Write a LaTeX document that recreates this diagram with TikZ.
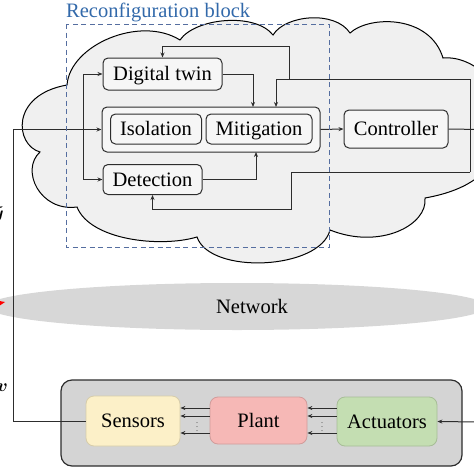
\documentclass[tikz,border=0pt]{standalone}
\usepackage{amsmath}
\usepackage{fontspec}
\setmainfont{Liberation Serif}
\usetikzlibrary{arrows.meta,calc,shapes.geometric}
\definecolor{cloudfill}{RGB}{240,240,240}
\definecolor{boxfill}{RGB}{246,246,246}
\definecolor{linec}{RGB}{45,45,45}
\definecolor{dashc}{RGB}{85,110,160}
\definecolor{labc}{RGB}{50,105,170}
\definecolor{netfill}{RGB}{215,215,215}
\definecolor{envfill}{RGB}{212,212,212}
\definecolor{senfill}{RGB}{252,240,200}
\definecolor{plafill}{RGB}{246,184,182}
\definecolor{actfill}{RGB}{196,222,178}
\begin{document}
\begin{tikzpicture}[x=1pt,y=-1pt,
  txt/.style={font=\fontsize{20.5}{24}\selectfont},
  ctxt/.style={txt,text height=16.6pt,text depth=3pt},
  blk/.style={ctxt,draw=linec,line width=1pt,fill=boxfill,rounded corners=5pt,inner sep=0pt},
  cbox/.style={ctxt,rounded corners=8pt,inner sep=0pt,line width=0.8pt},
  conn/.style={draw=linec,line width=1pt},
  arr/.style={conn,-{Stealth[length=5pt,width=4pt]}},
  dots/.style={inner sep=0pt,font=\fontsize{8}{8}\selectfont,text=linec}
]
\useasboundingbox (0,0) rectangle (474,474);
% cloud
\draw[fill=cloudfill,draw=black,line width=1pt]
  (40,152) .. controls (15,145) and (10,95) .. (67,85)
  .. controls (70,45) and (140,15) .. (180,40)
  .. controls (195,18) and (255,12) .. (273,35)
  .. controls (285,15) and (335,10) .. (350,33)
  .. controls (370,15) and (430,15) .. (443,58)
  .. controls (475,55) and (510,90) .. (505,125)
  .. controls (500,170) and (470,190) .. (425,198)
  .. controls (428,225) and (380,250) .. (330,230)
  .. controls (320,270) and (210,275) .. (197,237)
  .. controls (160,248) and (90,240) .. (77,207)
  .. controls (40,212) and (20,170) .. (40,152) -- cycle;
% network
\node[ellipse,fill=netfill,minimum width=500pt,minimum height=47pt,inner sep=0pt] (net) at (237,306.5) {};
\node[ctxt,inner sep=0pt] (nettxt) at (252,307) {Network};
% environment box
\node[draw=linec,line width=1.2pt,fill=envfill,rounded corners=11pt,minimum width=401pt,minimum height=86pt,inner sep=0pt] (env) at (261.5,423) {};
\node[cbox,fill=senfill,draw=senfill!85!black,minimum width=94pt,minimum height=50pt] (sen) at (133,421) {Sensors};
\node[cbox,fill=plafill,draw=plafill!85!black,minimum width=97pt,minimum height=47pt] (pla) at (258.5,420.5) {Plant};
\node[cbox,fill=actfill,draw=actfill!85!black,minimum width=100pt,minimum height=49pt] (act) at (387,421.5) {Actuators};
% blocks
\node[blk,minimum width=119pt,minimum height=32pt] (dt) at (162.5,74) {Digital twin};
\node[blk,minimum width=218pt,minimum height=45pt] (ob) at (211,129.5) {};
\node[blk,minimum width=91pt,minimum height=30pt] (iso) at (156,129) {Isolation};
\node[blk,minimum width=106pt,minimum height=30pt] (mit) at (259,129) {Mitigation};
\node[blk,minimum width=99pt,minimum height=30pt] (det) at (152.5,179.5) {Detection};
\node[blk,minimum width=104pt,minimum height=38pt] (ctl) at (396,129) {Controller};
% coordinates
\coordinate (lx) at (13,129.5);
\coordinate (bt) at (83,74);
\coordinate (bb) at (83,179.5);
\coordinate (m1) at (253,107);
\coordinate (m2) at (256,152);
\coordinate (m3) at (276,107);
\coordinate (ce) at (480,129.5);
\coordinate (jt) at (470,79);
\coordinate (jb) at (470,172);
\coordinate (k1) at (289,79);
\coordinate (k2) at (289,46);
\coordinate (b1) at (291,172);
\coordinate (b2) at (152.5,209);
\coordinate (ar) at (480,422);
\coordinate (ya) at (0,408);
\coordinate (yb) at (0,416);
\coordinate (yc) at (0,433);
% connectors
\draw[arr] (sen.west) -| (lx) -- (ob.west);
\draw[conn] (bt) -- (bb);
\draw[arr] (bt) -- (dt.west);
\draw[arr] (bb) -- (det.west);
\draw[arr] (dt.east) -| (m1);
\draw[arr] (det.east) -| (m2);
\draw[arr] (ob.east) -- (ctl.west);
\draw[conn] (ctl.east) -- (ce);
\draw[conn] (jt) -- (jb);
\draw[arr] (jt) -| (m3);
\draw[arr] (k1) -- (k2) -| (dt.north);
\draw[arr] (jb) -- (b1) |- (b2) -- (det.south);
\draw[arr] (ar) -- (act.east);
\foreach \yy in {ya,yb,yc}{
  \draw[arr] (pla.west |- \yy) -- (sen.east |- \yy);
  \draw[arr] (act.west |- \yy) -- (pla.east |- \yy);
}
\node[dots] (d1) at (197,424.5) {$\vdots$};
\node[dots] (d2) at (322,424.5) {$\vdots$};
% dashed reconfiguration block
\draw[dashc,line width=1pt,dash pattern=on 5pt off 3.5pt] (66,24) rectangle (329,247);
\node[txt,text=labc,anchor=west,inner sep=0pt] (rlab) at (66,12.5) {Reconfiguration block};
% clipped side labels (only their right ends fall inside the picture)
\node[anchor=east,inner sep=0pt,font=\fontsize{18}{18}\selectfont] (l1) at (4,214) {$\boldsymbol{\tilde{y}}$};
\fill[red] (-6,300) -- (5,302) -- (-4,308) -- cycle;
\node[anchor=east,inner sep=0pt,font=\fontsize{18}{18}\selectfont] (l2) at (8,388) {$\boldsymbol{v}$};
\end{tikzpicture}
\end{document}
